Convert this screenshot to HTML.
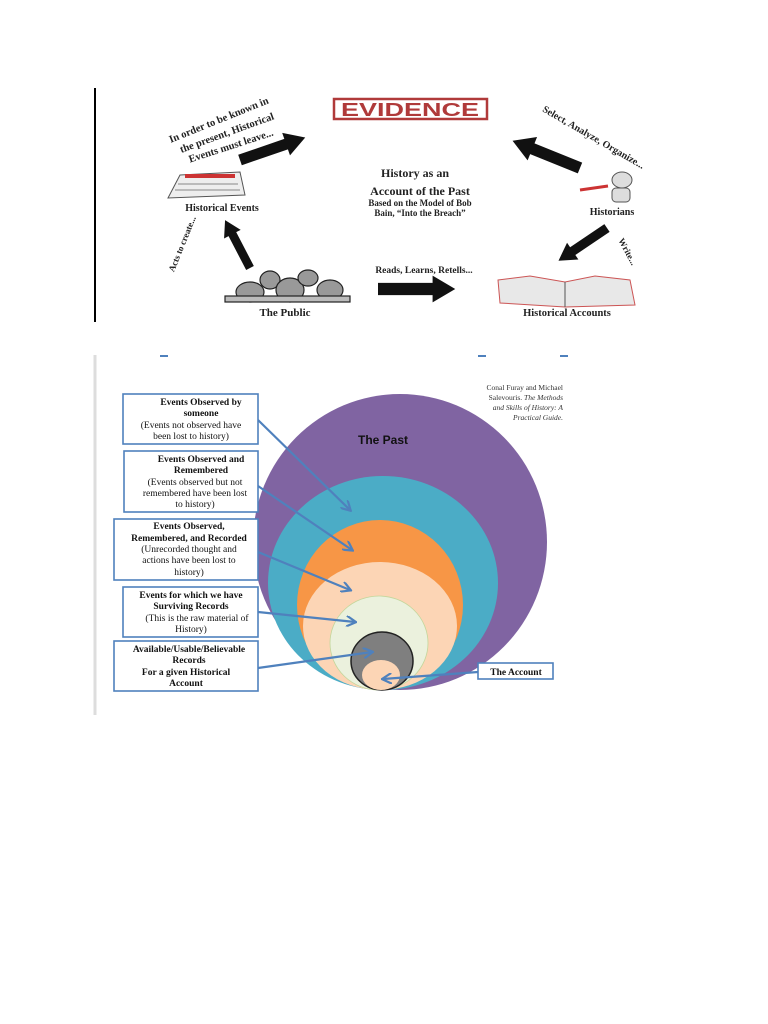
<!DOCTYPE html>
<html><head><meta charset="utf-8"><style>
html,body{margin:0;padding:0;background:#fff}
svg{display:block}
.s{font-family:"Liberation Serif",serif;font-weight:bold;fill:#222}
.box{fill:#fff;stroke:#4f81bd;stroke-width:1.6}
.bt{font-family:"Liberation Serif",serif;font-size:9.5px;fill:#111;text-anchor:middle}
</style></head><body>
<svg width="768" height="1024" viewBox="0 0 768 1024" xmlns="http://www.w3.org/2000/svg">
<defs>
<path id="ar" d="M0,-6 L53,-6 L53,-13 L75,0 L53,13 L53,6 L0,6Z" fill="#111"/>
<marker id="bh" viewBox="0 0 10 10" refX="8" refY="5" markerWidth="5" markerHeight="5" orient="auto"><path d="M0,0 L9,5 L0,10" fill="none" stroke="#4f81bd" stroke-width="2"/></marker>
</defs>
<!-- top diagram -->
<line x1="95" y1="88" x2="95" y2="322" stroke="#000" stroke-width="2"/>
<rect x="334" y="99" width="153" height="20" fill="#fff" stroke="#b03a3a" stroke-width="2.5"/>
<text x="410" y="116" text-anchor="middle" font-family="Liberation Sans,sans-serif" font-weight="bold" font-size="18" fill="#b03a3a" textLength="138" lengthAdjust="spacingAndGlyphs">EVIDENCE</text>
<g class="s" text-anchor="middle">
<text x="415" y="177" font-size="12">History as an</text>
<text x="420" y="195" font-size="12">Account of the Past</text>
<text x="420" y="206" font-size="9">Based on the Model of Bob</text>
<text x="420" y="216" font-size="9">Bain, “Into the Breach”</text>
<text x="222" y="211" font-size="10">Historical Events</text>
<text x="612" y="215" font-size="10">Historians</text>
<text x="285" y="316" font-size="11">The Public</text>
<text x="567" y="316" font-size="10.5">Historical Accounts</text>
<text x="424" y="273" font-size="9.5">Reads, Learns, Retells...</text>
<g font-size="10.5">
<text transform="translate(220,123) rotate(-22)">In order to be known in</text>
<text transform="translate(228,136) rotate(-20)">the present, Historical</text>
<text transform="translate(232,149) rotate(-18)">Events must leave...</text>
</g>
<text transform="translate(592,140) rotate(30)" font-size="10">Select, Analyze, Organize...</text>
<text transform="translate(625,253) rotate(62)" font-size="9">Write...</text>
<text transform="translate(185,245) rotate(-68)" font-size="9">Acts to create...</text>
</g>
<use href="#ar" transform="translate(240,160) rotate(-19) scale(0.92)"/>
<use href="#ar" transform="translate(580,168) rotate(202) scale(0.97)"/>
<use href="#ar" transform="translate(607,228) rotate(146) scale(0.78)"/>
<use href="#ar" transform="translate(378,289) rotate(0) scale(1.03)"/>
<use href="#ar" transform="translate(250,268) rotate(-117.5) scale(0.72)"/>
<!-- icons -->
<g stroke="#555" fill="#eee" stroke-width="1">
<polygon points="180,175 240,172 245,195 168,198"/>
<rect x="185" y="174" width="50" height="4" fill="#c33" stroke="none"/>
<path d="M175,190 H240 M178,184 H238" stroke="#888"/>
<ellipse cx="622" cy="180" rx="10" ry="8" fill="#ddd"/>
<rect x="612" y="188" width="18" height="14" rx="4" fill="#ddd"/>
<line x1="580" y1="190" x2="608" y2="186" stroke="#c33" stroke-width="3"/>
<polygon points="498,280 530,276 565,282 595,276 630,280 635,305 565,307 500,303" fill="#e8e8e8" stroke="#c55"/>
<line x1="565" y1="282" x2="565" y2="307"/>
</g>
<g fill="#999" stroke="#222" stroke-width="1.2">
<ellipse cx="250" cy="292" rx="14" ry="10"/><ellipse cx="270" cy="280" rx="10" ry="9"/><ellipse cx="290" cy="290" rx="14" ry="12"/><ellipse cx="308" cy="278" rx="10" ry="8"/><ellipse cx="330" cy="290" rx="13" ry="10"/>
<rect x="225" y="296" width="125" height="6" fill="#bbb"/>
</g>
<!-- lower diagram -->
<line x1="95" y1="355" x2="95" y2="715" stroke="#ddd" stroke-width="3"/>
<g fill="#4f81bd"><rect x="160" y="355" width="8" height="2"/><rect x="478" y="355" width="8" height="2"/><rect x="560" y="355" width="8" height="2"/></g>
<ellipse cx="400" cy="542" rx="147" ry="148" fill="#8064a2"/>
<ellipse cx="383" cy="583" rx="115" ry="107" fill="#4bacc6"/>
<ellipse cx="380" cy="605" rx="83" ry="85" fill="#f79646"/>
<ellipse cx="380" cy="626" rx="77" ry="64" fill="#fcd5b5"/>
<ellipse cx="379" cy="643" rx="49" ry="47" fill="#ebf1dd" stroke="#c3d69b" stroke-width="0.8"/>
<ellipse cx="382" cy="661" rx="31" ry="29" fill="#7f7f7f" stroke="#222" stroke-width="1.5"/>
<ellipse cx="381" cy="675" rx="19" ry="15" fill="#fcd5b5"/>
<text x="383" y="444" text-anchor="middle" font-family="Liberation Sans,sans-serif" font-weight="bold" font-size="12" fill="#111">The Past</text>
<g font-family="Liberation Serif,serif" font-size="7.5" fill="#333" text-anchor="end">
<text x="563" y="390">Conal Furay and Michael</text>
<text x="563" y="400">Salevouris. <tspan font-style="italic">The Methods</tspan></text>
<text x="563" y="410" font-style="italic">and Skills of History: A</text>
<text x="563" y="420" font-style="italic">Practical Guide.</text>
</g>
<g stroke="#4f81bd" stroke-width="2.2" fill="none" marker-end="url(#bh)">
<line x1="258" y1="420" x2="350" y2="510"/>
<line x1="258" y1="486" x2="352" y2="550"/>
<line x1="258" y1="552" x2="350" y2="590"/>
<line x1="258" y1="612" x2="355" y2="622"/>
<line x1="258" y1="668" x2="372" y2="652"/>
<line x1="478" y1="672" x2="383" y2="679"/>
</g>
<rect class="box" x="123" y="394" width="135" height="50"/>
<rect class="box" x="124" y="451" width="134" height="61"/>
<rect class="box" x="114" y="519" width="144" height="61"/>
<rect class="box" x="123" y="587" width="135" height="50"/>
<rect class="box" x="114" y="641" width="144" height="50"/>
<rect class="box" x="478" y="663" width="75" height="16"/>
<g class="bt">
<text x="201" y="405" font-weight="bold">Events Observed by</text>
<text x="201" y="416" font-weight="bold">someone</text>
<text x="191" y="428">(Events not observed have</text>
<text x="191" y="439">been lost to history)</text>
<text x="201" y="462" font-weight="bold">Events Observed and</text>
<text x="201" y="473" font-weight="bold">Remembered</text>
<text x="195" y="485">(Events observed but not</text>
<text x="195" y="496">remembered have been lost</text>
<text x="195" y="507">to history)</text>
<text x="189" y="529" font-weight="bold">Events Observed,</text>
<text x="189" y="541" font-weight="bold">Remembered, and Recorded</text>
<text x="189" y="552">(Unrecorded thought and</text>
<text x="189" y="563">actions have been lost to</text>
<text x="189" y="575">history)</text>
<text x="191" y="598" font-weight="bold">Events for which we have</text>
<text x="191" y="609" font-weight="bold">Surviving Records</text>
<text x="197" y="621">(This is the raw material of</text>
<text x="191" y="632">History)</text>
<text x="189" y="652" font-weight="bold">Available/Usable/Believable</text>
<text x="189" y="663" font-weight="bold">Records</text>
<text x="186" y="675" font-weight="bold">For a given Historical</text>
<text x="186" y="686" font-weight="bold">Account</text>
<text x="516" y="675" font-weight="bold" font-size="9.5">The Account</text>
</g>
</svg>
</body></html>
